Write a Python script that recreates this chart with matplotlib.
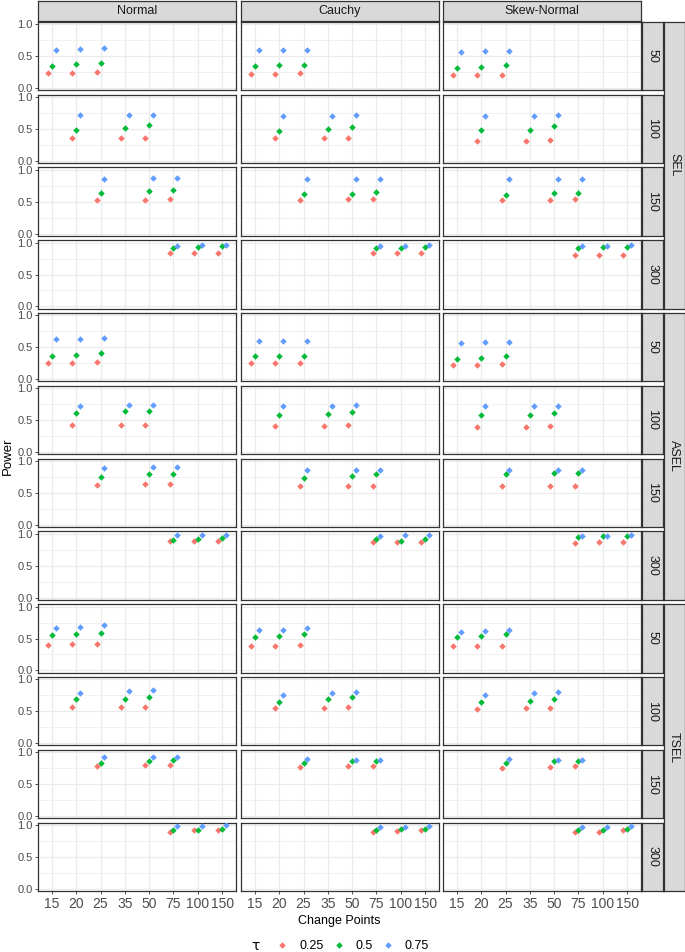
import numpy as np
import matplotlib.pyplot as plt
from matplotlib.lines import Line2D

plt.rcParams['font.family'] = ['Liberation Sans', 'DejaVu Sans']

dists = ['Normal', 'Cauchy', 'Skew-Normal']
methods = ['SEL', 'ASEL', 'TSEL']
sizes = [50, 100, 150, 300]
taus = ['0.25', '0.5', '0.75']
cp_levels = ['15', '20', '25', '35', '50', '75', '100', '150']
# change points used for each sample size
cps = {50: ['15', '20', '25'], 100: ['20', '35', '50'],
       150: ['25', '50', '75'], 300: ['75', '100', '150']}

# power[dist][size][tau][cp]
sel = [
    [[[0.24, 0.24, 0.245], [0.345, 0.377, 0.39], [0.60, 0.61, 0.63]],
     [[0.35, 0.35, 0.36], [0.48, 0.52, 0.56], [0.716, 0.72, 0.726]],
     [[0.53, 0.534, 0.54], [0.64, 0.667, 0.69], [0.857, 0.868, 0.868]],
     [[0.834, 0.834, 0.84], [0.91, 0.93, 0.94], [0.95, 0.957, 0.963]]],
    [[[0.225, 0.225, 0.23], [0.345, 0.356, 0.366], [0.60, 0.60, 0.60]],
     [[0.35, 0.35, 0.36], [0.47, 0.50, 0.53], [0.705, 0.71, 0.716]],
     [[0.53, 0.55, 0.55], [0.614, 0.624, 0.65], [0.857, 0.857, 0.857]],
     [[0.84, 0.84, 0.84], [0.91, 0.92, 0.93], [0.95, 0.95, 0.957]]],
    [[[0.204, 0.204, 0.204], [0.31, 0.33, 0.36], [0.57, 0.58, 0.58]],
     [[0.31, 0.31, 0.32], [0.48, 0.48, 0.54], [0.705, 0.71, 0.72]],
     [[0.53, 0.534, 0.54], [0.61, 0.64, 0.64], [0.85, 0.85, 0.857]],
     [[0.80, 0.80, 0.81], [0.914, 0.925, 0.936], [0.946, 0.946, 0.957]]],
]
asel = [
    [[[0.256, 0.26, 0.267], [0.366, 0.377, 0.41], [0.623, 0.634, 0.65]],
     [[0.42, 0.42, 0.424], [0.618, 0.64, 0.64], [0.728, 0.733, 0.738]],
     [[0.63, 0.637, 0.642], [0.747, 0.79, 0.80], [0.895, 0.90, 0.91]],
     [[0.884, 0.889, 0.894], [0.905, 0.92, 0.93], [0.979, 0.984, 0.989]]],
    [[[0.246, 0.246, 0.25], [0.356, 0.366, 0.366], [0.60, 0.60, 0.60]],
     [[0.40, 0.403, 0.424], [0.586, 0.60, 0.628], [0.728, 0.728, 0.733]],
     [[0.61, 0.616, 0.616], [0.737, 0.758, 0.79], [0.858, 0.863, 0.863]],
     [[0.873, 0.878, 0.878], [0.92, 0.894, 0.915], [0.974, 0.979, 0.984]]],
    [[[0.23, 0.23, 0.236], [0.314, 0.33, 0.366], [0.57, 0.576, 0.576]],
     [[0.387, 0.387, 0.40], [0.586, 0.586, 0.613], [0.728, 0.728, 0.728]],
     [[0.605, 0.605, 0.605], [0.79, 0.816, 0.816], [0.853, 0.858, 0.863]],
     [[0.857, 0.868, 0.868], [0.947, 0.963, 0.963], [0.974, 0.974, 0.984]]],
]
tsel = [
    [[[0.405, 0.41, 0.42], [0.553, 0.568, 0.59], [0.658, 0.674, 0.705]],
     [[0.563, 0.568, 0.574], [0.695, 0.695, 0.72], [0.79, 0.816, 0.83]],
     [[0.784, 0.795, 0.80], [0.837, 0.863, 0.874], [0.92, 0.926, 0.93]],
     [[0.895, 0.916, 0.927], [0.92, 0.927, 0.932], [0.98, 0.984, 0.995]]],
    [[[0.384, 0.39, 0.405], [0.52, 0.54, 0.574], [0.626, 0.637, 0.658]],
     [[0.547, 0.553, 0.563], [0.647, 0.70, 0.726], [0.758, 0.784, 0.80]],
     [[0.763, 0.779, 0.779], [0.832, 0.868, 0.868], [0.90, 0.884, 0.884]],
     [[0.895, 0.906, 0.916], [0.927, 0.932, 0.937], [0.974, 0.974, 0.984]]],
    [[[0.38, 0.384, 0.39], [0.52, 0.537, 0.574], [0.605, 0.616, 0.637]],
     [[0.537, 0.547, 0.558], [0.642, 0.668, 0.69], [0.763, 0.784, 0.805]],
     [[0.758, 0.768, 0.784], [0.826, 0.863, 0.863], [0.90, 0.884, 0.884]],
     [[0.895, 0.895, 0.916], [0.916, 0.927, 0.932], [0.974, 0.974, 0.99]]],
]
power = {'SEL': sel, 'ASEL': asel, 'TSEL': tsel}

colors = ['#F8766D', '#00BA38', '#619CFF']
dodge = [-0.16, 0.0, 0.16]

W, H = 685, 952
fig = plt.figure(figsize=(W / 100, H / 100), dpi=100)


def box(x, y, w, h):
    # pixel box (top-left origin) -> figure fraction
    return [x / W, 1 - (y + h) / H, w / W, h / H]


def strip(rect, label, rot=0):
    sax = fig.add_axes(rect)
    sax.set_xticks([])
    sax.set_yticks([])
    sax.set_facecolor('#D9D9D9')
    for s in sax.spines.values():
        s.set_color('#333333')
        s.set_linewidth(0.9)
    sax.text(0.5, 0.5, label, ha='center', va='center', rotation=rot,
             fontsize=9, color='#1A1A1A', transform=sax.transAxes)


col_x = [38, 241, 443]
pw, ph = 198, 68.5
top0, pitch = 21.7, 72.8

for mi, m in enumerate(methods):
    for si, n in enumerate(sizes):
        row = mi * 4 + si
        y = top0 + row * pitch
        for di, d in enumerate(dists):
            ax = fig.add_axes(box(col_x[di], y, pw, ph))
            ax.set_xlim(-0.57, len(cp_levels) - 1 + 0.57)
            ax.set_ylim(-0.035, 1.04)
            ax.set_xticks(range(len(cp_levels)))
            ax.set_yticks([0, 0.5, 1.0])
            ax.set_yticks([0.25, 0.75], minor=True)
            ax.grid(True, which='major', color='#EBEBEB', lw=0.9)
            ax.grid(True, which='minor', axis='y', color='#EBEBEB', lw=0.5)
            ax.set_axisbelow(True)
            for s in ax.spines.values():
                s.set_color('#333333')
                s.set_linewidth(0.9)
            ax.tick_params(length=2.5, width=0.6, color='#333333', pad=1.5)
            ax.tick_params(which='minor', length=0)
            if di == 0:
                ax.set_yticklabels(['0.0', '0.5', '1.0'], fontsize=8,
                                   color='#4D4D4D')
            else:
                ax.tick_params(axis='y', length=0)
                ax.set_yticklabels([])
            if row == 11:
                ax.set_xticklabels(cp_levels, fontsize=10, color='#4D4D4D')
            else:
                ax.tick_params(axis='x', length=0)
                ax.set_xticklabels([])
            vals = power[m][di][si]
            xs = np.array([cp_levels.index(c) for c in cps[n]])
            for ti in range(len(taus)):
                ax.scatter(xs + dodge[ti], vals[ti], marker='D', s=11,
                           color=colors[ti], linewidths=0, zorder=3)
            if row == 0:
                strip(box(col_x[di], 0.5, pw, 20.7), d)
        # size strip on the right
        strip(box(641.5, y, 21.5, ph), str(n), rot=-90)
    # method strip spanning four rows
    y0 = top0 + mi * 4 * pitch
    strip(box(663.5, y0, 21, 4 * pitch - (pitch - ph)), m, rot=-90)

fig.text(339.5 / W, 1 - 921 / H, 'Change Points', ha='center', va='center',
         fontsize=9)
fig.text(8 / W, 1 - 456 / H, 'Power', ha='center', va='center',
         rotation=90, fontsize=9.5)

fig.text(256 / W, 1 - 946 / H, 'τ', ha='center', va='center', fontsize=10,
         family=['DejaVu Sans'])
handles = [Line2D([], [], marker='D', ls='', markersize=3.3, color=c,
                  markeredgewidth=0) for c in colors]
fig.legend(handles, taus, loc='center left', ncol=3, frameon=False,
           bbox_to_anchor=(276 / W, 1 - 946 / H), fontsize=9,
           borderpad=0, borderaxespad=0, handlelength=1.0,
           handletextpad=0.86, columnspacing=0.7)

fig.savefig('out.png', dpi=100)
